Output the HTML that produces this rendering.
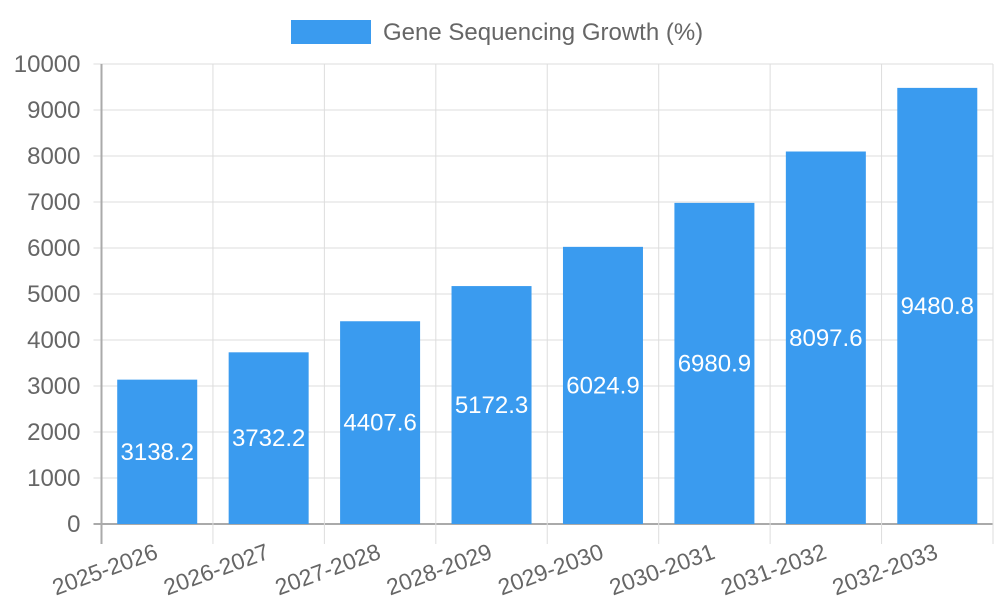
<!DOCTYPE html>
<html><head><meta charset="utf-8"><style>
html,body{margin:0;padding:0;background:#fff;}
svg{display:block;font-family:"Liberation Sans",sans-serif;}
</style></head><body>
<svg id="chart" width="1000" height="600" viewBox="0 0 1000 600">
<g id="legend">
<rect x="291" y="20" width="80" height="24" fill="#3a9bef"></rect>
<text x="383" y="40" font-size="24" fill="#666">Gene Sequencing Growth (%)</text>
</g>
<g id="grid"></g><g id="bars"></g><g id="axes"></g>
</svg>
<script>
const categories=["2025-2026","2026-2027","2027-2028","2028-2029","2029-2030","2030-2031","2031-2032","2032-2033"];
const values=[3138.2,3732.2,4407.6,5172.3,6024.9,6980.9,8097.6,9480.8];
const yTicks=[0,1000,2000,3000,4000,5000,6000,7000,8000,9000,10000];
const NS="http://www.w3.org/2000/svg";
const L=101.5,R=993,T=64,B=524,yMax=10000;
const band=(R-L)/categories.length;
const y=v=>B-(v/yMax)*(B-T);
const xc=i=>L+band*(i+0.5);
function mk(tag,attrs,parent){const e=document.createElementNS(NS,tag);for(const k in attrs)e.setAttribute(k,attrs[k]);parent.appendChild(e);return e;}
const grid=document.getElementById('grid'),bars=document.getElementById('bars'),axes=document.getElementById('axes');
yTicks.forEach(t=>{
  const ln=mk('line',{x1:L-8,x2:R,y1:y(t),y2:y(t),stroke:t===0?'#aaa':'#ddd','stroke-width':t===0?2:1},grid);
  
  
  const tx=mk('text',{x:L-21,y:y(t)+8,'text-anchor':'end','font-size':24,fill:'#666'},axes);
  tx.textContent=t;
  
  
});
for(let i=0;i<=categories.length;i++){
  const x=L+band*i;
  const ln=mk('line',{x1:x,x2:x,y1:T,y2:B+20,stroke:i===0?'#aaa':'#ddd','stroke-width':i===0?2:1},grid);
  
  
}
categories.forEach((c,i)=>{
  const bw=80;
  const r=mk('rect',{x:xc(i)-bw/2,y:y(values[i]),width:bw,height:B-y(values[i]),fill:'#3a9bef'},bars);
  
  
  const v=mk('text',{x:xc(i),y:(y(values[i])+B)/2+8,'text-anchor':'middle','font-size':24,fill:'#fff'},bars);
  v.textContent=values[i];
  
  
  const lb=mk('text',{x:0,y:0,'text-anchor':'end','font-size':23,fill:'#666',transform:`translate(${xc(i)+2},${B+34}) rotate(-20)`},axes);
  lb.textContent=c;
  
  
});
</script>
</body></html>
